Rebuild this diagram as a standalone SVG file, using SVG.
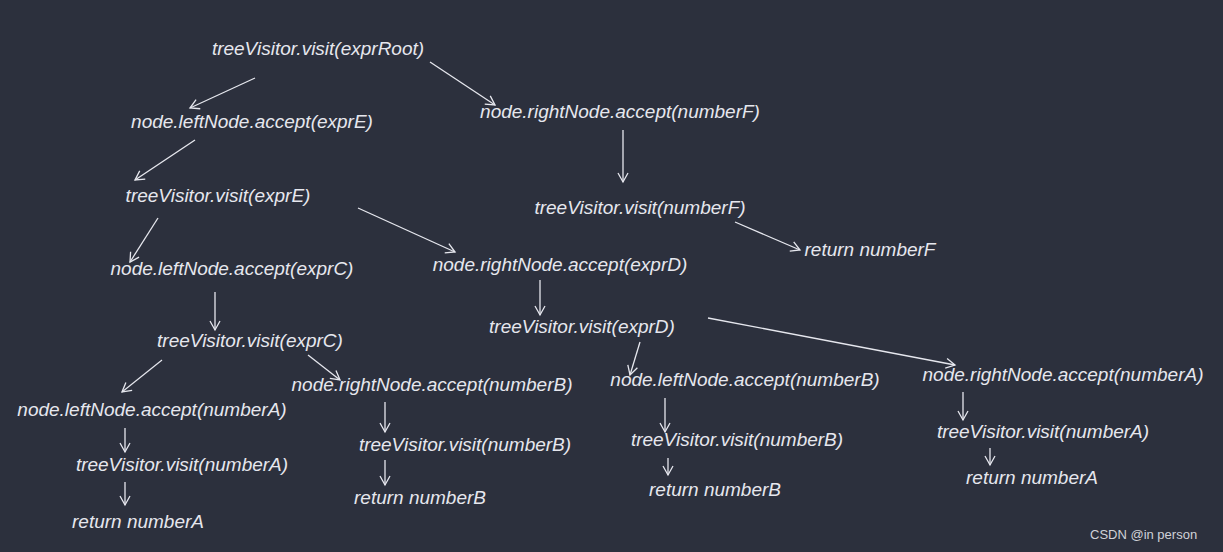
<svg xmlns="http://www.w3.org/2000/svg" width="1223" height="552" viewBox="0 0 1223 552">
<defs>
<marker id="ah" markerWidth="12" markerHeight="12" refX="10" refY="6" orient="auto" markerUnits="userSpaceOnUse">
<path d="M1,1 L10,6 L1,11" fill="none" stroke="#e6e7ee" stroke-width="1.3"/>
</marker>
<style>
text{font-family:"Liberation Sans",Arial,sans-serif;font-style:italic;fill:#e6e7ee;font-size:19px;text-anchor:middle;font-weight:300}
.c line{stroke:#e6e7ee;stroke-width:1.3;marker-end:url(#ah)}
.wm{font-style:normal;font-size:13px;fill:#d0d2d8;text-anchor:start}
</style>
</defs>
<rect width="1223" height="552" fill="#2c303d"/>
<g id="n1"><text x="318" y="55">treeVisitor.visit(exprRoot)</text></g>
<g id="n2"><text x="252" y="128">node.leftNode.accept(exprE)</text></g>
<g id="n3"><text x="620" y="118">node.rightNode.accept(numberF)</text></g>
<g id="n4"><text x="218" y="202">treeVisitor.visit(exprE)</text></g>
<g id="n5"><text x="640" y="214">treeVisitor.visit(numberF)</text></g>
<g id="n6"><text x="870" y="256">return numberF</text></g>
<g id="n7"><text x="232" y="275">node.leftNode.accept(exprC)</text></g>
<g id="n8"><text x="560" y="271">node.rightNode.accept(exprD)</text></g>
<g id="n9"><text x="250" y="347">treeVisitor.visit(exprC)</text></g>
<g id="n10"><text x="582" y="333">treeVisitor.visit(exprD)</text></g>
<g id="n11"><text x="152" y="416">node.leftNode.accept(numberA)</text></g>
<g id="n12"><text x="432" y="391">node.rightNode.accept(numberB)</text></g>
<g id="n13"><text x="745" y="386">node.leftNode.accept(numberB)</text></g>
<g id="n14"><text x="1063" y="381">node.rightNode.accept(numberA)</text></g>
<g id="n15"><text x="182" y="471">treeVisitor.visit(numberA)</text></g>
<g id="n16"><text x="465" y="451">treeVisitor.visit(numberB)</text></g>
<g id="n17"><text x="737" y="446">treeVisitor.visit(numberB)</text></g>
<g id="n18"><text x="1043" y="438">treeVisitor.visit(numberA)</text></g>
<g id="n19"><text x="138" y="528">return numberA</text></g>
<g id="n20"><text x="420" y="504">return numberB</text></g>
<g id="n21"><text x="715" y="496">return numberB</text></g>
<g id="n22"><text x="1032" y="484">return numberA</text></g>
<g class="c">
<line x1="255" y1="78" x2="190" y2="108"/>
<line x1="430" y1="62" x2="495" y2="105"/>
<line x1="195" y1="140" x2="135" y2="180"/>
<line x1="623" y1="130" x2="623" y2="182"/>
<line x1="735" y1="222" x2="800" y2="250"/>
<line x1="158" y1="218" x2="130" y2="262"/>
<line x1="358" y1="208" x2="455" y2="252"/>
<line x1="215" y1="292" x2="215" y2="330"/>
<line x1="540" y1="280" x2="540" y2="315"/>
<line x1="162" y1="360" x2="122" y2="392"/>
<line x1="308" y1="355" x2="340" y2="380"/>
<line x1="640" y1="342" x2="630" y2="375"/>
<line x1="708" y1="318" x2="955" y2="365"/>
<line x1="125" y1="428" x2="125" y2="452"/>
<line x1="125" y1="482" x2="125" y2="505"/>
<line x1="385" y1="402" x2="385" y2="432"/>
<line x1="385" y1="460" x2="385" y2="485"/>
<line x1="665" y1="398" x2="665" y2="432"/>
<line x1="668" y1="458" x2="668" y2="475"/>
<line x1="963" y1="392" x2="963" y2="420"/>
<line x1="990" y1="448" x2="990" y2="465"/>
</g>
<text class="wm" x="1090" y="539">CSDN @in person</text>
</svg>
